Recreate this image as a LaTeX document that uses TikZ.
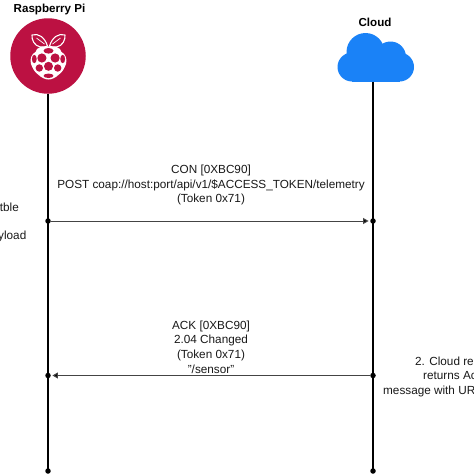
\documentclass[tikz,border=0pt]{standalone}
\usepackage{fontspec}
\setmainfont{Liberation Sans}
\usetikzlibrary{arrows.meta}
\definecolor{rpi}{HTML}{BC1142}
\definecolor{cloudblue}{HTML}{1A82F7}
\definecolor{msg}{HTML}{444444}
\tikzset{
  x=1pt,y=-1pt,
  lifeline/.style={line width=1.7pt,black},
  dotnode/.style={circle,fill=black,inner sep=0pt,minimum size=5.5pt},
  msgline/.style={line width=1pt,msg,-{Triangle[length=5.5pt,width=6pt,fill=black]},shorten >=1.5pt},
  lbl/.style={font=\fontsize{11.75}{14.7}\selectfont,text=black!90,align=center,inner sep=0pt},
  head/.style={font=\fontsize{11.6}{13}\selectfont\bfseries,inner sep=0pt},
  leaf/.style={draw=white,line width=1.1pt,fill=rpi,line join=round},
  seed/.style={fill=rpi}
}
\begin{document}
\begin{tikzpicture}
\useasboundingbox (0,0) rectangle (474,474);
\clip (0,0) rectangle (474,474);
\fill[white] (0,0) rectangle (474,474);
% participants
\node[head] (pihead) at (49.5,9.5) {Raspberry Pi};
\node[head] (cloudhead) at (375,22) {Cloud};
\node[circle,fill=rpi,minimum size=75.5pt,inner sep=0pt] (pi) at (48,56) {};
\coordinate (cloudbase) at (373,81.5);
% Raspberry logo
\begin{scope}[shift={(48.5,0)}]
  \draw[leaf] (-1,46) .. controls (-4,37) and (-10,33) .. (-16.5,35) .. controls (-17,40) and (-14,46) .. (-8,47) .. controls (-5,47.5) and (-3,47) .. (-1,46) -- cycle;
  \draw[leaf] (1,46) .. controls (4,37) and (10,33) .. (16.5,35) .. controls (17,40) and (14,46) .. (8,47) .. controls (5,47.5) and (3,47) .. (1,46) -- cycle;
  \draw[white,line width=.7pt] (-12,38) -- (-4,44) (12,38) -- (4,44);
  \fill[white] (0,46.5) .. controls (6,46) and (12,47) .. (13,52)
     .. controls (17,54) and (19,59) .. (17.5,64)
     .. controls (16,68) and (14,72) .. (11,74)
     .. controls (7,78) and (3,79.5) .. (0,79.5)
     .. controls (-3,79.5) and (-7,78) .. (-11,74)
     .. controls (-14,72) and (-16,68) .. (-17.5,64)
     .. controls (-19,59) and (-17,54) .. (-13,52)
     .. controls (-12,47) and (-6,46) .. (0,46.5) -- cycle;
  \fill[seed] (0,50.8) ellipse (5 and 2.8);
  \fill[seed] (-6.6,58) circle (4.6);
  \fill[seed] (6.6,58) circle (4.6);
  \fill[seed] (-14.2,59) ellipse (2.4 and 4.2);
  \fill[seed] (14.2,59) ellipse (2.4 and 4.2);
  \fill[seed] (0,66.3) circle (4.5);
  \fill[seed] (-9.2,68) circle (3.7);
  \fill[seed] (9.2,68) circle (3.7);
  \fill[seed] (0,75.8) ellipse (5 and 2.2);
\end{scope}
% cloud
\fill[cloudblue] (365.5,52) circle (19);
\fill[cloudblue] (390.5,57) circle (15.5);
\fill[cloudblue] (352,67) circle (14.5);
\fill[cloudblue] (399.5,67) circle (14.5);
\fill[cloudblue] (352,55) rectangle (400,81.5);
% lifelines
\node[dotnode] (la) at (48,221) {};
\node[dotnode] (ra) at (373,221) {};
\node[dotnode] (lb) at (48,375.5) {};
\node[dotnode] (rb) at (373,375.5) {};
\node[dotnode] (lc) at (48,471) {};
\node[dotnode] (rc) at (373,471) {};
\draw[lifeline] (pi.south) -- (lc.center);
\draw[lifeline] (cloudbase) -- (rc.center);
% messages
\draw[msgline] (la) -- (ra);
\draw[msgline] (rb) -- (lb);
\node[lbl] (con) at (211,185) {CON [0XBC90]\\POST coap://host:port/api/v1/\$ACCESS\_TOKEN/telemetry\\(Token 0x71)};
\node[lbl] (ack) at (211,347) {ACK [0XBC90]\\2.04 Changed\\(Token 0x71)\\"/sensor"};
% clipped side notes
\node[lbl,anchor=east] (n1) at (19,207.5) {tble};
\node[lbl,anchor=east] (n2) at (26.5,236.5) {yload};
\node[lbl,anchor=west] (n3) at (415,361.5) {2. Cloud re};
\node[lbl,anchor=west] (n4) at (423,376) {returns Ac};
\node[lbl,anchor=west] (n5) at (383,391) {message with UR};
\end{tikzpicture}
\end{document}
